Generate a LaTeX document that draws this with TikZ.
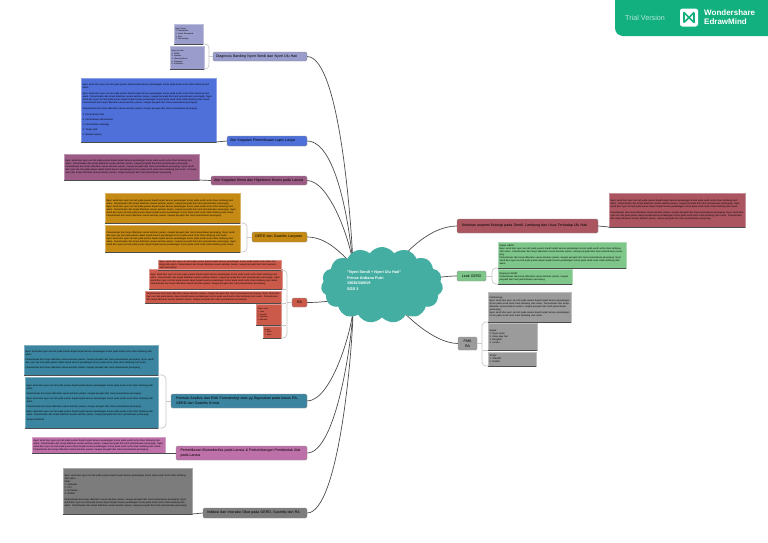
\documentclass[tikz,border=0pt]{standalone}
\usepackage{fontspec}
\setmainfont{Liberation Sans}
\usepackage{xcolor}
\usetikzlibrary{positioning,calc,shapes.symbols,backgrounds}

\definecolor{cloudc}{HTML}{45AEA3}
\definecolor{lavc}{HTML}{9A9CCB}
\definecolor{bluec}{HTML}{4F70D8}
\definecolor{plumc}{HTML}{9C5B85}
\definecolor{orac}{HTML}{C58A14}
\definecolor{redc}{HTML}{CC5A4B}
\definecolor{tealc}{HTML}{3C85A0}
\definecolor{pinkc}{HTML}{BE70A8}
\definecolor{greyc}{HTML}{7C7C7C}
\definecolor{rosec}{HTML}{AB5560}
\definecolor{greenc}{HTML}{7FC68A}
\definecolor{silverc}{HTML}{9B9B9B}
\definecolor{markc}{HTML}{12B07E}

\newcommand{\txta}{Nyeri sendi dan nyeri ulu hati pada pasien dapat terjadi karena peradangan kronis pada sendi serta iritasi lambung oleh asam.}
\newcommand{\txtb}{Pemeriksaan dan terapi diberikan sesuai keluhan pasien, riwayat penyakit dan hasil pemeriksaan penunjang.}

\begin{document}
\begin{tikzpicture}[x=1pt,y=-1pt,
        main node/.style={draw=black!45, fill=#1, rectangle, rounded corners=1.5pt, anchor=north west, align=left, font=\fontsize{3.6}{4.6}\selectfont, text=black, inner sep=0pt, outer sep=0pt},
        block/.style={draw=#1!65!white, fill=#1, rectangle, anchor=north west, align=left, font=\fontsize{2.35}{3}\selectfont, text=black, inner sep=1.5pt, outer sep=0pt},
        branch/.style={draw=black!70, line width=0.7pt},
        bracket/.style={draw=black!22, line width=0.7pt, rounded corners=4pt}]

\useasboundingbox (0,0) rectangle (768,542);

% centre
\node[cloud, fill=cloudc, cloud puffs=15, cloud puff arc=110, aspect=1.6, minimum width=122pt, minimum height=76pt, inner sep=0pt] (0) at (382,285) {};
\node[anchor=north west, align=left, text=white, font=\fontsize{3.8}{5.2}\selectfont\bfseries, inner sep=0pt] (00) at (347,270.5) {"Nyeri Sendi + Nyeri Ulu Hati"\\[1pt] Prince Ardiana Putri\\ 19082340019\\ SGD 3};
\coordinate (01) at (353,265);
\coordinate (02) at (353,310);

% left side labels
\node[main node=lavc, minimum width=94pt, minimum height=9pt, text width=88pt, inner xsep=3pt] (1) at (213,52) {Diagnosis Banding Nyeri Sendi dan Nyeri Ulu Hati};
\node[main node=bluec, minimum width=80pt, minimum height=10pt, text width=74pt, inner xsep=3pt] (2) at (227,136) {Alur Kegiatan Pemeriksaan Lapis Lanjut};
\node[main node=plumc, minimum width=96pt, minimum height=9pt, text width=90pt, inner xsep=3pt] (3) at (211,176) {Alur Kegiatan Kimia dan Hipertensi Kronis pada Lansia};
\node[main node=orac, minimum width=55pt, minimum height=10pt, text width=49pt, inner xsep=3pt] (4) at (252,232) {GERD dan Gastritis Lanjutan};
\node[main node=redc, minimum width=15pt, minimum height=9pt, text width=15pt, align=center] (5) at (292,298) {RA};
\node[main node=tealc, minimum width=136pt, minimum height=14pt, text width=126pt, inner xsep=5pt] (6) at (171,394) {Formula Analisis dan Efek Farmakologi obat yg Digunakan pada kasus RA, GERD dan Gastritis Kronis};
\node[main node=pinkc, minimum width=131pt, minimum height=14pt, text width=122pt, inner xsep=4.5pt] (7) at (176,446) {Pemeriksaan Biomekanika pada Lansia \& Perkembangan Pembentuk Alat pada Lansia};
\node[main node=greyc, minimum width=104pt, minimum height=10pt, text width=96pt, inner xsep=4pt] (8) at (203,508) {Indikasi dan Interaksi Obat pada GERD, Gastritis dan RA};

% right side labels
\node[main node=rosec, minimum width=141pt, minimum height=14pt, text width=131pt, inner xsep=5pt] (9) at (457,219) {Kelainan anatomi fisiologi pada Sendi, Lambung dan Usus Terhadap Ulu Hati};
\node[main node=greenc, minimum width=29pt, minimum height=10pt, text width=29pt, align=center] (10) at (457,271) {Leak GERD};
\node[main node=silverc, minimum width=19pt, minimum height=13pt, text width=19pt, align=center] (11) at (458,337) {PMK\\RA};

% blocks
\node[block=lavc, minimum width=29pt, minimum height=20pt, text width=26pt, font=\fontsize{1.9}{2.6}\selectfont] (12) at (174,24) {Nyeri Sendi:\\ 1. Osteoartritis\\ 2. Artritis Reumatoid\\ 3. Gout\\ 4. Fibromialgia};
\node[block=lavc, minimum width=34pt, minimum height=23pt, text width=31pt, font=\fontsize{1.9}{2.6}\selectfont] (13) at (170,46) {Nyeri Ulu Hati:\\ 1. GERD\\ 2. Gastritis\\ 3. Ulkus Peptikum\\ 4. Dispepsia\\ 5. Kolesistitis};
\node[block=bluec, minimum width=135pt, minimum height=64pt, text width=132pt] (14) at (81,78) {\txta\\[3pt] \txta{} \txtb{} \txta{} \txtb\\[3pt] \txtb\\[3pt] 1. Pemeriksaan fisik\\[2pt] 2. Pemeriksaan laboratorium\\[2pt] 3. Pemeriksaan radiologi\\[2pt] 4. Terapi obat\\[2pt] 5. Edukasi pasien};
\node[block=plumc, minimum width=135pt, minimum height=26pt, text width=132pt] (15) at (64,154) {\txta{} \txtb\\ \txtb{} \txta{} \txtb};
\node[block=orac, minimum width=135pt, minimum height=30pt, text width=132pt] (16) at (105,193) {\txta{} \txtb\\ \txta{} \txtb{} \txta{} \txtb};
\node[block=orac, minimum width=135pt, minimum height=27pt, text width=132pt] (17) at (105,225) {\txtb{} \txta\\ \txta{} \txtb{} \txta};
\node[block=redc, minimum width=123pt, minimum height=8pt, text width=120pt, inner ysep=1pt] (18) at (158,260) {\txta{} \txtb};
\node[block=redc, minimum width=133pt, minimum height=20pt, text width=130pt] (19) at (149,269) {\txta{} \txtb{} \txta{} \txtb};
\node[block=redc, minimum width=136pt, minimum height=12pt, text width=133pt, inner ysep=1pt] (20) at (145,291) {\txtb{} \txta{} \txtb};
\node[block=redc, minimum width=25pt, minimum height=21pt, text width=22pt, font=\fontsize{1.9}{2.6}\selectfont] (21) at (256,304) {Faktor risiko:\\ 1. Usia\\ 2. Genetik\\ 3. Obesitas\\ 4. Merokok};
\node[block=redc, minimum width=18pt, minimum height=12pt, text width=15pt, font=\fontsize{1.9}{2.6}\selectfont] (22) at (263,326) {Gejala:\\ 1. Nyeri\\ 2. Kaku};
\node[block=tealc, minimum width=134pt, minimum height=30pt, text width=131pt] (23) at (24,345) {\txta\\[2pt] \txtb{} \txta\\[2pt] \txtb};
\node[block=tealc, minimum width=133pt, minimum height=51pt, text width=130pt] (24) at (25,377) {\txta\\[2pt] \txtb\\[2pt] \txta\\[2pt] \txtb\\[2pt] \txta{} \txtb\\[2pt] Terapi kombinasi};
\node[block=pinkc, minimum width=133pt, minimum height=16pt, text width=130pt, inner ysep=0.5pt] (25) at (32,437) {\txta{} \txtb{} \txta{} \txtb};
\node[block=greyc, minimum width=129pt, minimum height=46pt, text width=126pt] (26) at (63,468) {\txta\\ Obat:\\ 1. Antasida\\ 2. PPI\\ 3. H2 bloker\\ 4. NSAID\\[3pt] \txtb{} \txta{} \txtb};
\node[block=rosec, minimum width=136pt, minimum height=34pt, text width=133pt] (27) at (609,193) {\txta{} \txtb{} \txta\\[3pt] \txtb{} \txta{} \txtb};
\node[block=greenc, minimum width=128pt, minimum height=26pt, text width=125pt] (28) at (498,242) {Gejala GERD:\\ \txta{} \txtb\\ \txtb{} \txta};
\node[block=greenc, minimum width=74pt, minimum height=15pt, text width=71pt] (29) at (498,269) {Diagnosis GERD:\\ \txtb};
\node[block=silverc, minimum width=83pt, minimum height=30pt, text width=80pt] (30) at (488,292) {Patofisiologi:\\ \txta{} \txtb\\ \txta};
\node[block=silverc, minimum width=49pt, minimum height=27pt, text width=46pt] (31) at (488,323) {Gejala:\\ 1. Nyeri sendi\\ 2. Kaku pagi hari\\ 3. Bengkak\\ 4. Lemas};
\node[block=silverc, minimum width=48pt, minimum height=14pt, text width=45pt] (32) at (488,352) {Terapi:\\ 1. DMARD\\ 2. NSAID};

% underlines
\foreach \n in {12,13,14,15,16,17,18,19,20,21,22,23,24,25,26,27,28,29,30,31,32}
    \draw[branch, line width=0.6pt] (\n.south west) -- (\n.south east);

% block to label
\draw[branch] (14.south east) -- (2.west);
\draw[branch] (15.south east) -- (3.west);
\draw[branch] (25.south east) -- (7.west);
\draw[branch] (26.south east) -- (8.west);
\draw[branch] (9.east) -- (27.south west);

\draw[bracket] (12.south east) -| ($(1.west)+(-4,0)$) |- (13.south east);
\draw[bracket] (1.west) -- ++(-4,0);
\draw[bracket] (16.south east) -| ($(4.west)+(-5,0)$) |- (17.south east);
\draw[bracket] (4.west) -- ++(-5,0);
\draw[bracket] (18.south east) -| ($(5.west)+(-5,0)$) |- (22.south east);
\draw[bracket] (19.south east) -- ++(4,0);
\draw[bracket] (20.south east) -- ++(5,0);
\draw[bracket] (21.south east) -- ++(5,0);
\draw[bracket] (5.west) -- ++(-5,0);
\draw[bracket] (23.south east) -| ($(6.west)+(-5,0)$) |- (24.south east);
\draw[bracket] (6.west) -- ++(-5,0);
\draw[bracket] (28.south west) -| ($(10.east)+(6,0)$) |- (29.south west);
\draw[bracket] (10.east) -- ++(6,0);
\draw[bracket] (30.south west) -| ($(11.east)+(5,0)$) |- (32.south west);
\draw[bracket] (31.south west) -- ++(-5,0);
\draw[bracket] (11.east) -- ++(5,0);

% main branches
\begin{pgfonlayer}{background}
\draw[branch] (1.east) to[out=0, in=92, looseness=0.4] (01);
\draw[branch] (2.east) to[out=0, in=95, looseness=0.6] (01);
\draw[branch] (3.east) to[out=0, in=95, looseness=0.6] (01);
\draw[branch] (4.east) to[out=0, in=135, looseness=0.9] (01);
\draw[branch] (5.east) to[out=0, in=210, looseness=0.8] (0.center);
\draw[branch] (6.east) to[out=0, in=-95, looseness=0.6] (02);
\draw[branch] (7.east) to[out=0, in=-92, looseness=0.5] (02);
\draw[branch] (8.east) to[out=0, in=-90, looseness=0.4] (02);
\draw[branch] (9.west) to[out=180, in=60, looseness=0.8] (0.center);
\draw[branch] (10.west) to[out=180, in=0, looseness=0.8] (0.center);
\draw[branch] (11.west) to[out=180, in=-60, looseness=0.7] (0.center);
\end{pgfonlayer}

% watermark
\fill[markc, rounded corners=8pt] (615,-12) rectangle (780,36);
\node[anchor=west, text=white!70!markc, font=\fontsize{7.2}{8}\selectfont, inner sep=0pt] (33) at (625,17.5) {Trial Version};
\node[fill=white, rounded corners=2.5pt, minimum size=18pt, inner sep=0pt] (34) at (689,17.5) {};
\draw[markc, line width=1.6pt, line join=round] (684,22.5) -- (684,12.5) -- (694,22.5) -- (694,12.5) (684,22.5) -- (694,12.5);
\node[anchor=west, align=left, text=white, font=\fontsize{8}{9}\selectfont\bfseries, inner sep=0pt] (35) at (704,17.5) {Wondershare\\EdrawMind};

\end{tikzpicture}
\end{document}
